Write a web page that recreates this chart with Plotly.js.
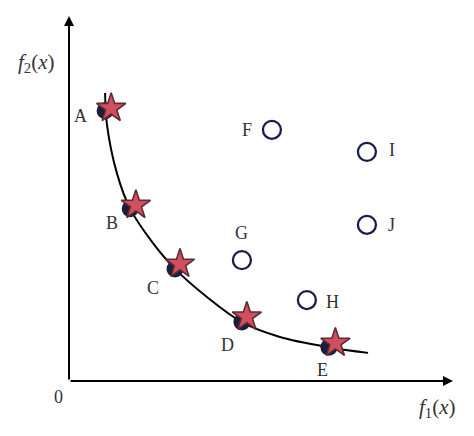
<!DOCTYPE html>
<html>
<head>
<meta charset="utf-8">
<script src="https://cdn.plot.ly/plotly-3.0.1.min.js"></script>
<style>html,body{margin:0;padding:0;background:#fff;}#chart{width:474px;height:436px;}</style>
</head>
<body>
<div id="chart"></div>
<script>
// Pareto front curve (f1, f2)
var frontCurveX = [0.95, 1.00, 1.26, 1.61, 2.21, 2.79, 3.63, 4.55, 5.55, 6.84, 7.87];
var frontCurveY = [7.58, 6.74, 5.47, 4.53, 3.63, 2.95, 2.21, 1.55, 1.16, 0.89, 0.74];

// Non-dominated solutions (circles) and their star markers
var frontLabels = ["A", "B", "C", "D", "E"];
var frontX = [0.95, 1.61, 2.79, 4.55, 6.84];
var frontY = [7.11, 4.53, 2.95, 1.55, 0.89];
var starX = [1.11, 1.76, 2.92, 4.68, 7.01];
var starY = [7.18, 4.63, 3.08, 1.69, 1.00];

// Dominated solutions
var otherLabels = ["F", "G", "H", "I", "J"];
var otherX = [5.34, 4.55, 6.26, 7.84, 7.84];
var otherY = [6.61, 3.18, 2.13, 6.03, 4.11];

var S = 38; // px per unit
var xr = [-69 / S, (474 - 69) / S];
var yr = [-(436 - 381) / S, 381 / S];

var traces = [
  {x: frontCurveX, y: frontCurveY, mode: 'lines', line: {color: '#000', width: 2, shape: 'spline', smoothing: 1}, hoverinfo: 'skip'},
  {x: frontX, y: frontY, mode: 'markers', marker: {symbol: 'circle', size: 17, color: '#1a1d3d', line: {width: 0}}},
  {x: starX, y: starY, mode: 'markers', marker: {symbol: 'star', size: 22, color: '#d24f5d', line: {color: '#5e2c34', width: 1.6}}},
  {x: otherX, y: otherY, mode: 'markers', marker: {symbol: 'circle-open', size: 18, color: '#1a1d4a', line: {color: '#1a1d4a', width: 2.3}}}
];

var font = {family: 'Liberation Serif, DejaVu Serif, serif', size: 18, color: '#333'};
var frontOff = [[-25, -5], [-18, -14], [-22, -19], [-14, -23], [-6, -23]];
var otherOff = [[-25, 0], [0, 27], [26, -2], [25, 2], [25, 0]];

var ann = [];
frontLabels.forEach(function (t, i) {
  ann.push({x: frontX[i], y: frontY[i], xref: 'x', yref: 'y', text: t, showarrow: false, font: font,
    xshift: frontOff[i][0], yshift: frontOff[i][1]});
});
otherLabels.forEach(function (t, i) {
  ann.push({x: otherX[i], y: otherY[i], xref: 'x', yref: 'y', text: t, showarrow: false, font: font,
    xshift: otherOff[i][0], yshift: otherOff[i][1]});
});
// axes arrows
ann.push({x: 0, y: 381 / S - 16 / S, ax: 0, ay: 0, xref: 'x', yref: 'y', axref: 'x', ayref: 'y', text: '',
  showarrow: true, arrowhead: 2, arrowsize: 1, arrowwidth: 2, arrowcolor: '#000', standoff: 0, startstandoff: 0});
ann.push({x: (453 - 69) / S, y: 0, ax: 0, ay: 0, xref: 'x', yref: 'y', axref: 'x', ayref: 'y', text: '',
  showarrow: true, arrowhead: 2, arrowsize: 1, arrowwidth: 2, arrowcolor: '#000', standoff: 0, startstandoff: 0});
// axis labels
var big = {family: font.family, size: 21, color: '#333'};
ann.push({x: -11 / S, y: -16 / S, xref: 'x', yref: 'y', text: '0', showarrow: false, font: font});
ann.push({x: (437 - 69) / S, y: -(408 - 381) / S, xref: 'x', yref: 'y', text: '<i>f</i><sub>1</sub>(<i>x</i>)', showarrow: false, font: big});
ann.push({x: (36 - 69) / S, y: (381 - 63) / S, xref: 'x', yref: 'y', text: '<i>f</i><sub>2</sub>(<i>x</i>)', showarrow: false, font: big});

var layout = {
  width: 474, height: 436,
  margin: {l: 0, r: 0, t: 0, b: 0},
  paper_bgcolor: '#fff', plot_bgcolor: '#fff',
  showlegend: false,
  xaxis: {range: xr, visible: false, fixedrange: true},
  yaxis: {range: yr, visible: false, fixedrange: true},
  annotations: ann
};

Plotly.newPlot('chart', traces, layout, {staticPlot: true, displayModeBar: false});
</script>
</body>
</html>
